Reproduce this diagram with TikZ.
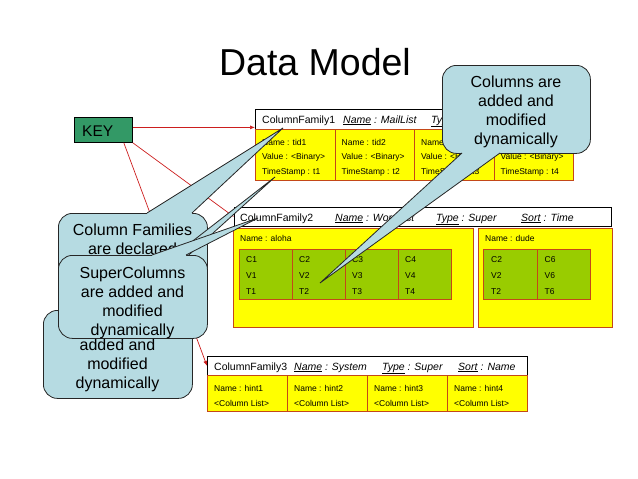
\documentclass[tikz,border=0pt]{standalone}
\usepackage{fontspec}
\setmainfont{Liberation Sans}
\usetikzlibrary{arrows.meta}
\definecolor{cyel}{RGB}{255,255,0}
\definecolor{cgreen}{RGB}{153,204,0}
\definecolor{cbord}{RGB}{196,72,24}
\definecolor{ckey}{RGB}{51,153,102}
\definecolor{ccall}{RGB}{182,219,226}
\definecolor{cred}{RGB}{204,30,30}
\tikzset{
 hdrbox/.style={draw=black, line width=0.8pt, fill=white, anchor=north west, inner sep=0pt},
 ycell/.style={draw=cbord, line width=0.8pt, fill=cyel, anchor=north west, inner sep=0pt},
 gcell/.style={draw=cbord, line width=0.8pt, fill=cgreen, anchor=north west, inner sep=0pt},
 htxt/.style={anchor=base west, inner sep=0pt, font=\fontsize{10.5}{12}\selectfont},
 ctxt/.style={anchor=base west, inner sep=0pt, font=\fontsize{8.5}{10}\selectfont},
 callbody/.style={draw=black!85, line width=0.8pt, fill=ccall, rounded corners=14pt, anchor=north west, inner sep=0pt},
 calltxt/.style={align=center, inner sep=0pt, font=\fontsize{16}{19}\selectfont},
 redline/.style={draw=cred, line width=0.7pt, -{Latex[length=5pt,width=4pt]}},
 tailline/.style={draw=black!85, line width=0.8pt, line join=miter},
}
\newcommand\ctail[4]{%
  \fill[ccall] (#1) -- (#2) -- ([yshift=#4]#2) -- ([yshift=#4]#3) -- (#3) -- cycle;
  \draw[tailline] (#2) -- (#1) -- (#3);
}
\begin{document}
\begin{tikzpicture}[x=1pt,y=-1pt]
\useasboundingbox (0,0) rectangle (638,479);
% title
\node[anchor=base, inner sep=0pt, font=\fontsize{37.5}{40}\selectfont] (title) at (315,75.5) {Data Model};
% KEY
\node[draw=black, line width=0.8pt, fill=ckey, anchor=north west, minimum width=58, minimum height=25, inner sep=0pt] (key) at (74,117) {};
\node[anchor=base west, inner sep=0pt, font=\fontsize{15.5}{18}\selectfont] (keytxt) at (82,136) {KEY};
% ColumnFamily1
\node[hdrbox, minimum width=318, minimum height=20] (h1) at (255,109) {};
\node[htxt] (h1a) at (262,123) {ColumnFamily1};
\node[htxt] (h1b) at (343,123) {\underline{\textit{Name}}\textit{ : MailList}};
\node[htxt] (h1c) at (431,123) {\underline{\textit{Type}}};
\foreach \i/\x in {1/255,2/334.5,3/414,4/493.5}{
  \node[ycell, minimum width=79.5, minimum height=51] (a\i) at (\x,129) {};
}
\foreach \i/\x in {1/255,2/334.5,3/414}{
  \node[ctxt] (an\i) at (\x+7,145) {Name : tid\i};
}
\foreach \i/\x in {1/255,2/334.5,3/414,4/493.5}{
  \node[ctxt] (av\i) at (\x+7,159.5) {Value : <Binary>};
  \node[ctxt] (at\i) at (\x+7,174) {TimeStamp : t\i};
}
% ColumnFamily2
\node[hdrbox, minimum width=377, minimum height=19] (h2) at (234,207) {};
\node[htxt] (h2a) at (240,221) {ColumnFamily2};
\node[htxt] (h2b) at (335,221) {\underline{\textit{Name}}\textit{ : WordList}};
\node[htxt] (h2c) at (436,221) {\underline{\textit{Type}}\textit{ : Super}};
\node[htxt] (h2d) at (521,221) {\underline{\textit{Sort}}\textit{ : Time}};
\node[ycell, minimum width=240, minimum height=99] (s1) at (233,228) {};
\node[ycell, minimum width=134, minimum height=99] (s2) at (478,228) {};
\node[ctxt] (s1n) at (240,241) {Name : aloha};
\node[ctxt] (s2n) at (485,241) {Name : dude};
\foreach \i/\x in {1/239,2/292,3/345,4/398}{
  \node[gcell, minimum width=53, minimum height=50] (g\i) at (\x,249) {};
  \node[ctxt] (gc\i) at (\x+7,262) {C\i};
  \node[ctxt] (gv\i) at (\x+7,278) {V\i};
  \node[ctxt] (gt\i) at (\x+7,294) {T\i};
}
\foreach \j/\k/\x in {1/2/483,2/6/536.5}{
  \node[gcell, minimum width=53.5, minimum height=50] (d\j) at (\x,249) {};
  \node[ctxt] (dc\j) at (\x+8,262) {C\k};
  \node[ctxt] (dv\j) at (\x+8,278) {V\k};
  \node[ctxt] (dt\j) at (\x+8,294) {T\k};
}
% ColumnFamily3
\node[hdrbox, minimum width=320, minimum height=19] (h3) at (207,356) {};
\node[htxt] (h3a) at (214,370) {ColumnFamily3};
\node[htxt] (h3b) at (294,370) {\underline{\textit{Name}}\textit{ : System}};
\node[htxt] (h3c) at (382,370) {\underline{\textit{Type}}\textit{ : Super}};
\node[htxt] (h3d) at (458,370) {\underline{\textit{Sort}}\textit{ : Name}};
\foreach \i/\x in {1/207,2/287,3/367,4/447}{
  \node[ycell, minimum width=80, minimum height=36] (e\i) at (\x,375) {};
  \node[ctxt] (en\i) at (\x+7,391) {Name : hint\i};
  \node[ctxt] (el\i) at (\x+7,406) {<Column List>};
}
% KEY connectors
\coordinate (k1) at ([yshift=2.5pt]key.east);
\coordinate (k2) at (key.south east);
\coordinate (k3) at ([xshift=-9pt]key.south east);
\draw[redline] (k1) -- (k1 -| h1.west);
\draw[redline] (k2) -- (h2.west);
\draw[redline] (k3) -- (h3.west);
% callout A
\node[callbody, minimum width=149, minimum height=87] (cA) at (58,213) {};
\coordinate (tA) at (283,128);
\coordinate (tA1) at (147,213);
\coordinate (tA2) at (192,213);
\ctail{tA}{tA1}{tA2}{-5pt}
\node[calltxt] (cAt) at (132.5,239) {Column Families\\are declared};
% callout B
\node[callbody, minimum width=149, minimum height=88] (cB) at (43,310) {};
\coordinate (tB) at (275,177);
\coordinate (tB1) at (104,310);
\coordinate (tB2) at (128,310);
\ctail{tB}{tB1}{tB2}{-5pt}
\node[calltxt] (cBt) at (117.5,365) {added and\\modified\\dynamically};
% callout C
\node[callbody, minimum width=149, minimum height=83] (cC) at (58,255) {};
\coordinate (tC) at (258,218);
\coordinate (tC1) at (152,255);
\coordinate (tC2) at (186,255);
\ctail{tC}{tC1}{tC2}{-5pt}
\node[calltxt] (cCt) at (132.5,303) {SuperColumns\\are added and\\modified\\dynamically};
% callout D
\node[callbody, minimum width=148, minimum height=88] (cD) at (442,65) {};
\coordinate (tD) at (320,283);
\coordinate (tD1) at (462,153);
\coordinate (tD2) at (500,153);
\ctail{tD}{tD1}{tD2}{5pt}
\node[calltxt] (cDt) at (516,112) {Columns are\\added and\\modified\\dynamically};
\end{tikzpicture}
\end{document}
